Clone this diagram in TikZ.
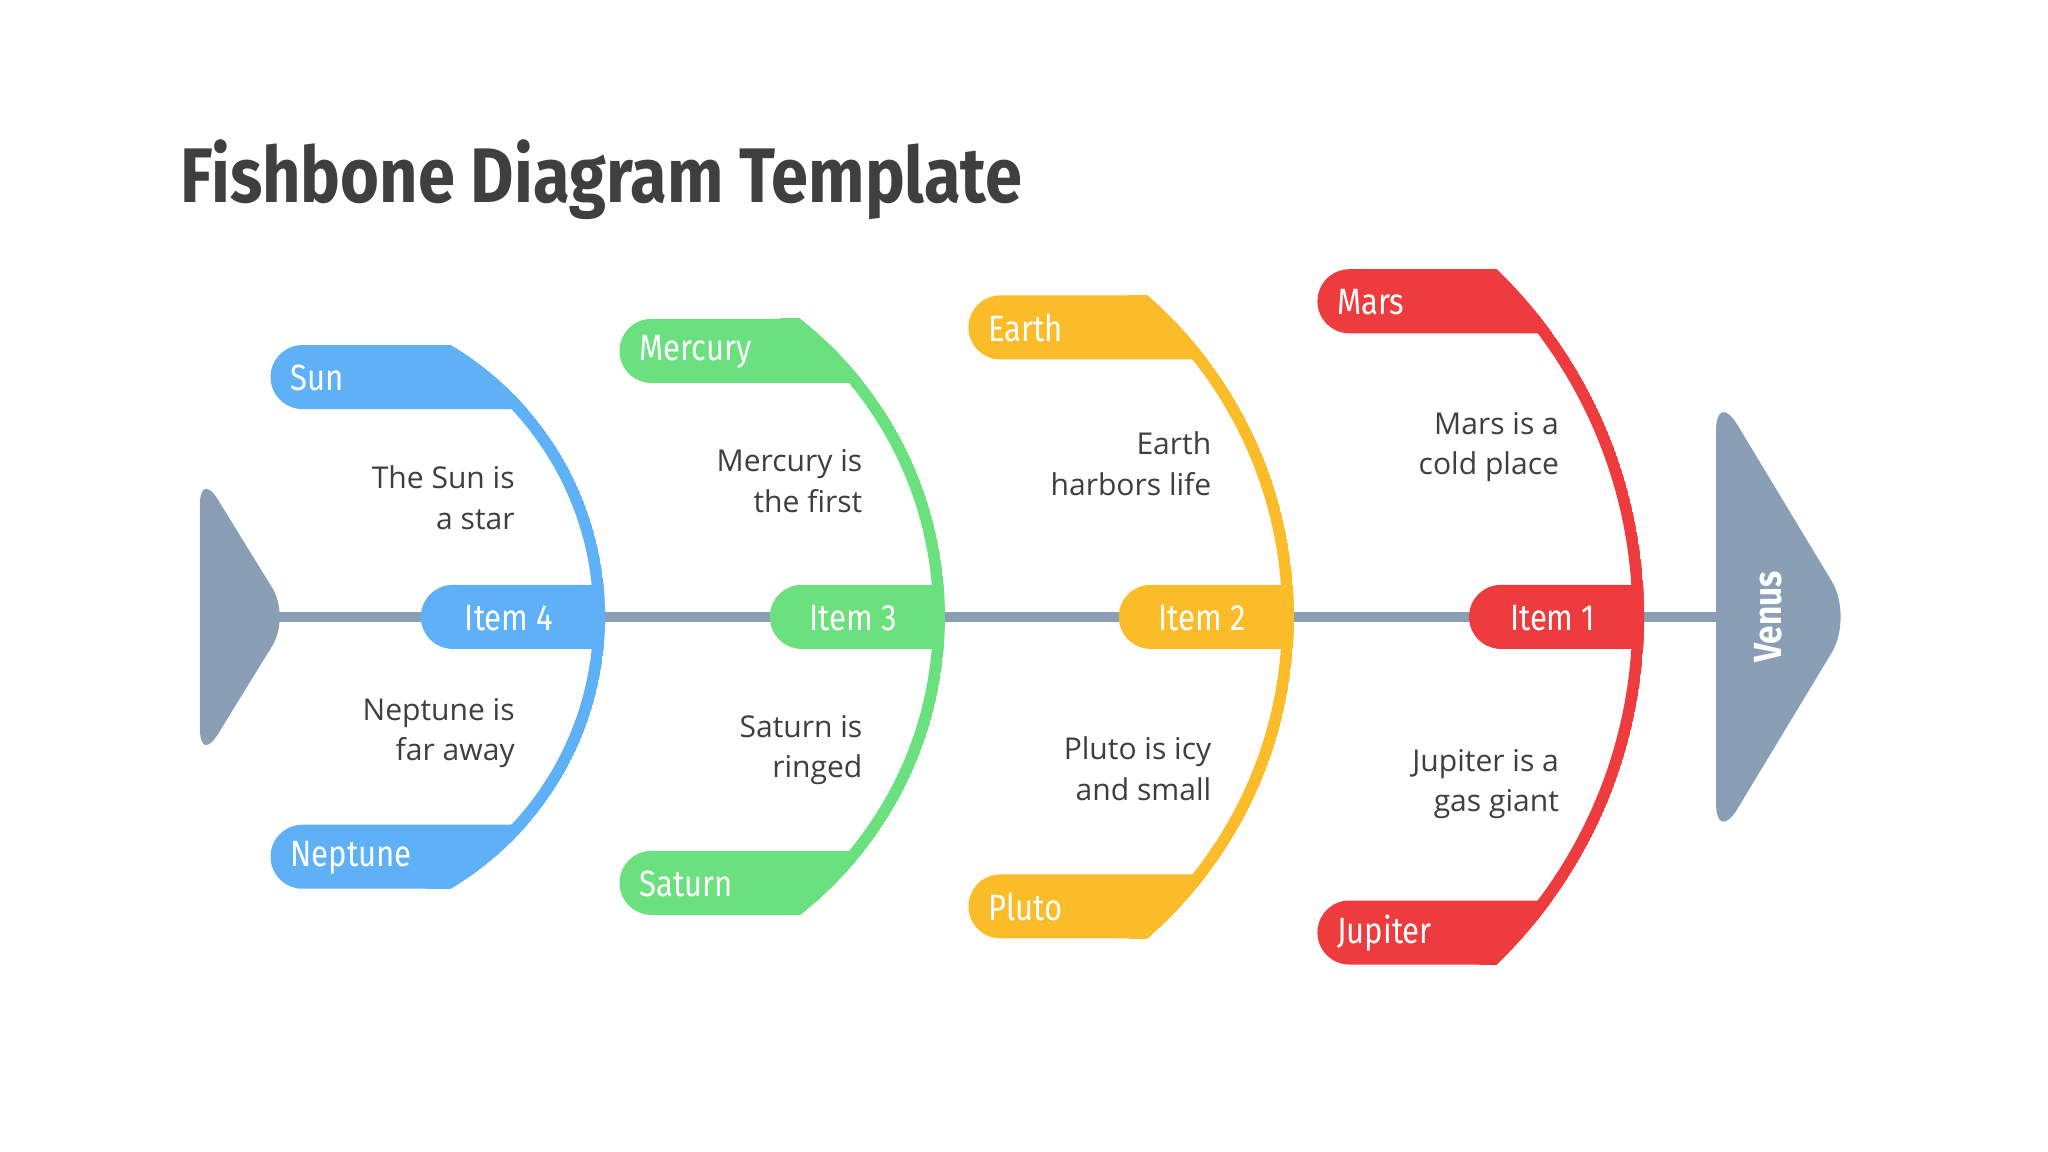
\documentclass[tikz,border=0pt]{standalone}
\usepackage{fontspec}
\setmainfont{Open Sans}
\newfontfamily\labfont{Fira Sans}
\newfontfamily\titlefont{Fira Sans}[UprightFont=* Bold]
\definecolor{cblue}{HTML}{5EB0F7}
\definecolor{cgreen}{HTML}{6BE07E}
\definecolor{corange}{HTML}{FBBC2A}
\definecolor{cred}{HTML}{EE3B3E}
\definecolor{cgray}{HTML}{8A9FB5}
\definecolor{ctext}{HTML}{3F3F3F}
\tikzset{
  lab/.style={text=white,font=\labfont\fontsize{28}{30}\selectfont,inner sep=0pt},
  desc/.style={text=ctext,font=\fontsize{23}{31}\selectfont,align=right,inner sep=0pt,anchor=east},
}
% color, left, top, cx, R, itemleft, toplabel, bottomlabel, itemlabel
\newcommand\fishseg[9]{%
  \begin{scope}
    \clip (#4,472) circle (#5);
    \fill[#1,rounded corners=24.5] (#2,#3) rectangle (#2+400,#3+49);
    \fill[#1,rounded corners=24.5] (#2,944-#3-49) rectangle (#2+400,944-#3);
    \fill[#1,rounded corners=24.5] (#6,447.5) rectangle (#6+400,496.5);
    \begin{scope}
      \clip (#4,#3) rectangle (2000,944-#3);
      \draw[#1,line width=9] (#4,472) circle (#5-4.5);
    \end{scope}
  \end{scope}
  \node[lab,anchor=west] (#7) at (#2+15,#3+25) {\scalebox{0.85}[1]{#7}};
  \node[lab,anchor=west] (#8) at (#2+15,944-#3-24) {\scalebox{0.85}[1]{#8}};
  \node[lab] (i#9) at ({(#6+#4+#5)/2-3},473) {\scalebox{0.85}[1]{Item #9}};
}
\begin{document}
\begin{tikzpicture}[x=1pt,y=-1pt]
\useasboundingbox (0,0) rectangle (1567,881.4);
\fill[white] (0,0) rectangle (1567,881.4);
\node[anchor=base west,inner sep=0pt,text=ctext] (title) at (138,155)
  {\resizebox{644pt}{48pt}{\titlefont\fontsize{60}{60}\selectfont Fishbone Diagram Template}};
\coordinate (tailtip) at (212,472);
\coordinate (headbase) at (1315,472);
\draw[cgray,line width=8] (tailtip) -- (headbase);
\fill[cgray,rounded corners=26] (153,472) -- (153,360) -- (222,472) -- (153,584) -- cycle;
\fill[cgray,rounded corners=32] (1313,472) -- (1313,298) -- (1418,472) -- (1313,646) -- cycle;
\node[rotate=90,text=white,font=\labfont\bfseries\fontsize{30}{30}\selectfont,inner sep=0pt] (venus) at (1353,472) {\scalebox{0.85}[1]{Venus}};
\fishseg{cblue}{207}{264}{221}{242}{322}{Sun}{Neptune}{4}
\fishseg{cgreen}{474}{244}{433}{290}{589}{Mercury}{Saturn}{3}
\fishseg{corange}{741}{226}{664}{326}{856}{Earth}{Pluto}{2}
\fishseg{cred}{1008}{206}{888}{370}{1124}{Mars}{Jupiter}{1}
\node[desc] (d1) at (394,381) {The Sun is\\a star};
\node[desc] (d2) at (394,561) {Neptune is\\far away};
\node[desc] (d3) at (660,368) {Mercury is\\the first};
\node[desc] (d4) at (660,574) {Saturn is\\ringed};
\node[desc] (d5) at (927,355) {Earth\\harbors life};
\node[desc] (d6) at (927,588) {Pluto is icy\\and small};
\node[desc] (d7) at (1193,342) {Mars is a\\cold place};
\node[desc] (d8) at (1193,600) {Jupiter is a\\gas giant};
\end{tikzpicture}
\end{document}
